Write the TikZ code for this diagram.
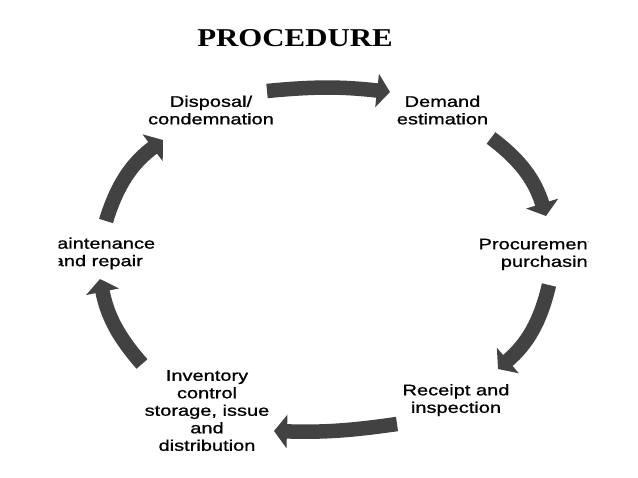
\documentclass[tikz,border=0pt]{standalone}
\usepackage{fontspec}
\newfontfamily\labelfont{Liberation Sans}[FakeStretch=1.3, FakeBold=1]
\newfontfamily\titlefont{Liberation Serif}[FakeStretch=1.2]
\usetikzlibrary{arrows.meta}

\begin{document}
\begin{tikzpicture}[x=1pt, y=-1pt,
  stage/.style={inner sep=0, anchor=north, align=center, font=\labelfont\fontsize{15.4}{17.5}\selectfont},
  flow/.style={line width=14.5pt, draw=black!74, -{Triangle[length=13pt, width=33pt]}}]
\useasboundingbox (0,0) rectangle (638,478);
\node[inner sep=0, anchor=base, font=\titlefont\bfseries\fontsize{25.7}{30}\selectfont] (title) at (295,47) {PROCEDURE};
\begin{scope}
\clip (58.5,0) rectangle (588,478);
\node[stage] (disp) at (211,95.5) {Disposal/\\condemnation};
\node[stage] (dem) at (442.5,95.5) {Demand\\estimation};
\node[stage, anchor=north east, align=right] (proc) at (599,238) {Procurement/\\purchasing};
\node[stage] (rec) at (456,384) {Receipt and\\inspection};
\node[stage] (inv) at (207,370) {Inventory\\control\\storage, issue\\and\\distribution};
\node[stage] (maint) at (97.8,237.3) {Maintenance\\and repair};
\end{scope}
\draw[flow] ([shift={(56,-4.5)}]disp.north) to[bend left=6] ([shift={(-52.5,-3.5)}]dem.north);
\draw[flow] ([shift={(48.5,42.5)}]dem.north) to[bend left=18] ([shift={(-53,-22)}]proc.north east);
\draw[flow] ([shift={(-50,47)}]proc.north east) to[bend left=18] ([shift={(42,-15)}]rec.north);
\draw[flow] ([shift={(-59,40)}]rec.north) to[bend left=5] ([shift={(67,61)}]inv.north);
\draw[flow] ([shift={(-65,-6)}]inv.north) to[bend left=15] ([shift={(2.2,41.7)}]maint.north);
\draw[flow] ([shift={(8.2,-16.3)}]maint.north) to[bend left=18] ([shift={(-48,44.5)}]disp.north);
\end{tikzpicture}
\end{document}
